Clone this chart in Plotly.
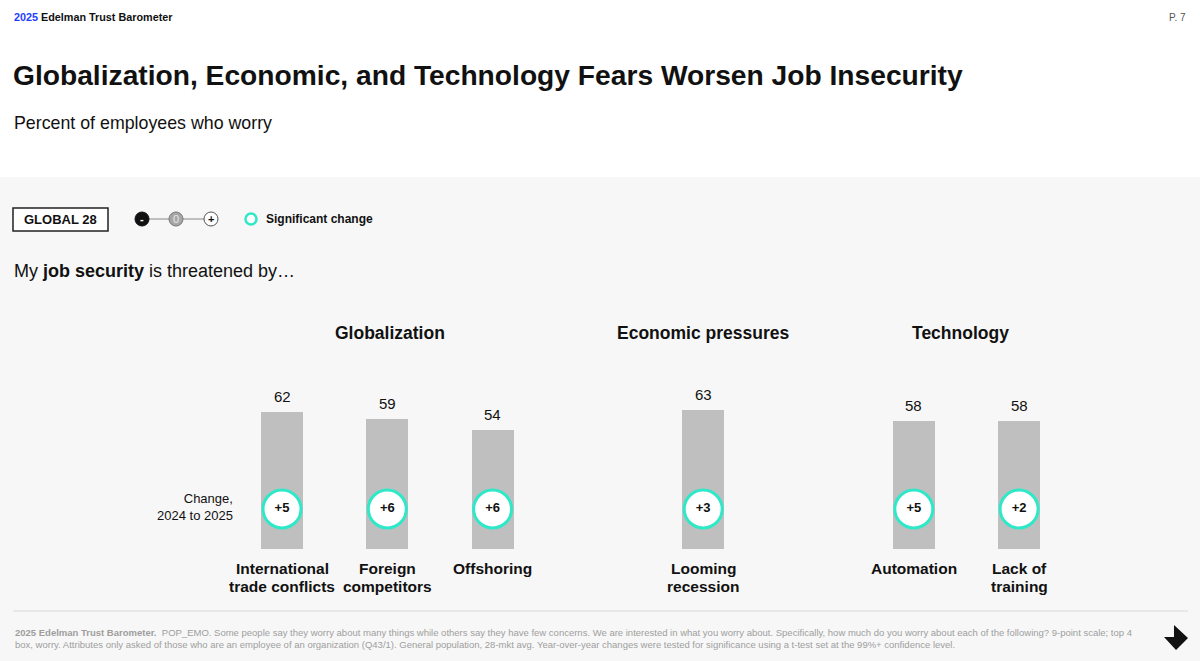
import plotly.graph_objects as go

# ---------------- data ----------------
categories = ["International<br>trade conflicts", "Foreign<br>competitors", "Offshoring",
              "Looming<br>recession", "Automation", "Lack of<br>training"]
slots = [0, 1, 2, 4, 6, 7]
values = [62, 59, 54, 63, 58, 58]
changes = ["+5", "+6", "+6", "+3", "+5", "+2"]
groups = ["Globalization", "Economic pressures", "Technology"]
group_slots = [1.03, 4, 6.44]

W, H = 1200, 661
FONT = "Liberation Sans, Arial, sans-serif"
BAR = "#bfbfbf"
TEAL = "#2ee8c8"
BG = "#f7f7f7"

def px(x):
    return x / W

def py(y):
    return 1 - y / H

# axis mapping: slot 0 -> 282px, 105.3 px per slot; y 0 -> 549px, 2.21 px per unit
SX0, SDX = 282.0, 105.3
Y0, DY = 549.0, 2.21
xr = [-SX0 / SDX, (W - SX0) / SDX]
yr = [-(H - Y0) / DY, Y0 / DY]
circle_y = (Y0 - 509) / DY

fig = go.Figure()
fig.add_trace(go.Bar(x=slots, y=values, width=0.4, marker=dict(color=BAR, line=dict(width=0)),
                     hoverinfo="skip", showlegend=False))
fig.add_trace(go.Scatter(x=slots, y=[circle_y] * len(slots), mode="markers+text",
                         marker=dict(size=38, color="white", line=dict(color=TEAL, width=3)),
                         text=["<b>%s</b>" % c for c in changes], textposition="middle center",
                         textfont=dict(family=FONT, size=13, color="#111"),
                         hoverinfo="skip", showlegend=False))

ann = []
# value labels
for s, v in zip(slots, values):
    ann.append(dict(x=s, y=v, xref="x", yref="y", text=str(v), showarrow=False,
                    yanchor="bottom", yshift=5, font=dict(family=FONT, size=15, color="#111")))
# category labels (one annotation per line for tight line spacing)
for s, c in zip(slots, categories):
    for i, line in enumerate(c.split("<br>")):
        ann.append(dict(x=s, y=py(568 + 18 * i), xref="x", yref="paper", text="<b>%s</b>" % line,
                        showarrow=False, yanchor="middle", align="center",
                        font=dict(family=FONT, size=15.5, color="#111")))
# group titles
for s, g in zip(group_slots, groups):
    ann.append(dict(x=s, y=py(333), xref="x", yref="paper", text="<b>%s</b>" % g, showarrow=False,
                    yanchor="middle", font=dict(family=FONT, size=17.5, color="#111")))

def txt(x, y, t, size, color="#111", xanchor="left", yanchor="middle", align="left"):
    ann.append(dict(x=px(x), y=py(y), xref="paper", yref="paper", text=t, showarrow=False,
                    xanchor=xanchor, yanchor=yanchor, align=align,
                    font=dict(family=FONT, size=size, color=color)))

txt(12, 17, "<b><span style='color:#1f3cff'>2025</span> Edelman Trust Barometer</b>", 10.8)
txt(1188, 17, "P. 7", 10, color="#555", xanchor="right")
txt(11, 75, "<b>Globalization, Economic, and Technology Fears Worsen Job Insecurity</b>", 28.2)
txt(12, 123, "Percent of employees who worry", 17.8)
txt(60.5, 219, "<b>GLOBAL 28</b>", 13, xanchor="center")
txt(264, 219, "<b>Significant change</b>", 12)
txt(12, 271, "My <b>job security</b> is threatened by…", 18)
txt(235, 507, "Change,<br>2024 to 2025", 13, xanchor="right", align="right")
txt(142, 219, "<b>-</b>", 11, color="white", xanchor="center")
txt(176, 219, "0", 11, color="#e8e8e8", xanchor="center")
txt(211, 219, "<b>+</b>", 11, color="#111", xanchor="center")
txt(13, 638.5,
    "<b>2025 Edelman Trust Barometer.</b>  POP_EMO. Some people say they worry about many things while others say they have few concerns. "
    "We are interested in what you worry about. Specifically, how much do you worry about each of the following? 9-point scale; top 4"
    "<br>box, worry. Attributes only asked of those who are an employee of an organization (Q43/1). General population, 28-mkt avg. "
    "Year-over-year changes were tested for significance using a t-test set at the 99%+ confidence level.",
    9.5, color="#9e9e9e")

shapes = []
# white header band
shapes.append(dict(type="rect", xref="paper", yref="paper", x0=0, x1=1, y0=py(177), y1=1,
                   fillcolor="white", line=dict(width=0), layer="below"))
# GLOBAL 28 box
shapes.append(dict(type="rect", xref="paper", yref="paper", x0=px(13), x1=px(108), y0=py(231), y1=py(208),
                   fillcolor="white", line=dict(color="#222", width=1.5)))
# legend connector lines
shapes.append(dict(type="line", xref="paper", yref="paper", x0=px(149), x1=px(204), y0=py(219), y1=py(219),
                   line=dict(color="#888", width=1), layer="below"))

def circ(cx, cy, r, fill, line, lw):
    shapes.append(dict(type="circle", xref="paper", yref="paper", x0=px(cx - r), x1=px(cx + r),
                       y0=py(cy + r), y1=py(cy - r), fillcolor=fill, line=dict(color=line, width=lw)))

circ(142, 219, 7, "#111", "#111", 1)
circ(176, 219, 7, "#a6a6a6", "#777", 1)
circ(211, 219, 7, "white", "#555", 1)
circ(251, 219, 5.5, "white", TEAL, 2.5)
# footer rule
shapes.append(dict(type="line", xref="paper", yref="paper", x0=px(13), x1=px(1188), y0=py(611), y1=py(611),
                   line=dict(color="#d9d9d9", width=1)))
# footer arrow
pts = [(1164, 637), (1174, 637), (1174, 625), (1188, 638), (1176, 650)]
path = "M " + " L ".join("%.5f,%.5f" % (px(a), py(b)) for a, b in pts) + " Z"
shapes.append(dict(type="path", xref="paper", yref="paper", path=path, fillcolor="#111", line=dict(width=0)))

fig.update_layout(
    width=W, height=H, margin=dict(l=0, r=0, t=0, b=0),
    paper_bgcolor=BG, plot_bgcolor="rgba(0,0,0,0)",
    xaxis=dict(range=xr, visible=False, fixedrange=True),
    yaxis=dict(range=yr, visible=False, fixedrange=True),
    annotations=ann, shapes=shapes, bargap=0, showlegend=False,
)
fig.write_html("out.html", config={"displayModeBar": False},
               post_script="document.body.style.margin='0';document.body.style.overflow='hidden';")
